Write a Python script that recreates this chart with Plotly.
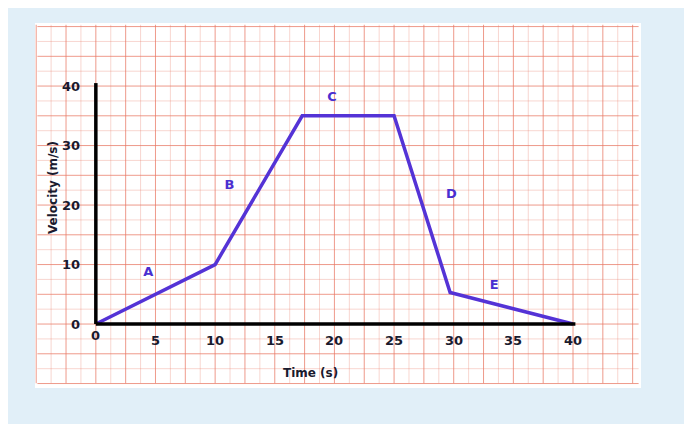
import plotly.graph_objects as go

# Dados
tempo = [0, 10, 17.3, 25, 29.7, 40]
velocidade = [0, 10, 35, 35, 5.3, 0]
trechos = ["A", "B", "C", "D", "E"]
trecho_x = [4.4, 11.2, 19.8, 29.8, 33.4]
trecho_y = [8.7, 23.2, 38.0, 21.8, 6.4]
xticks = [5, 10, 15, 20, 25, 30, 35, 40]
yticks = [10, 20, 30, 40]

W, H = 692, 424
X0, X1 = -5.1, 45.7
Y0, Y1 = -10.75, 50.6
grade = "rgba(232,120,100,0.75)"
grade_fina = "rgba(232,120,100,0.3)"
txt = "#1a1a2e"

fig = go.Figure()
fig.add_trace(go.Scatter(x=tempo, y=velocidade, mode="lines",
                         line=dict(color="#5433d6", width=3.5), hoverinfo="skip"))
fig.add_trace(go.Scatter(x=trecho_x, y=trecho_y, mode="text", text=[f"<b>{t}</b>" for t in trechos],
                         textfont=dict(color="#4a2fd0", size=13, family="DejaVu Sans")))

shapes = [dict(type="rect", xref="paper", yref="paper", x0=27/W, x1=633/W, y0=1-380/H, y1=1-15/H,
               fillcolor="white", line_width=0, layer="below")]
# grade milimetrada
x = 0.0
while x - 1.25 > X0:
    x -= 1.25
while x < X1:
    shapes.append(dict(type="line", x0=x, x1=x, y0=Y0 + 0.8, y1=Y1 - 0.3, layer="below",
                       line=dict(color=grade if round(x / 1.25) % 2 == 0 else grade_fina, width=1)))
    x += 1.25
y = -10.0
while y < Y1:
    shapes.append(dict(type="line", x0=X0 + 0.2, x1=X1 - 0.2, y0=y, y1=y, layer="below",
                       line=dict(color=grade if round(y / 2.5) % 2 == 0 else grade_fina, width=1)))
    y += 2.5
# eixos
shapes.append(dict(type="line", x0=0, x1=40.2, y0=0, y1=0, line=dict(color="black", width=3.5)))
shapes.append(dict(type="line", x0=0, x1=0, y0=0, y1=40.5, line=dict(color="black", width=3.5)))

ann = []
for t in xticks:
    ann.append(dict(x=t, y=-1.2, text=f"<b>{t}</b>", showarrow=False, yanchor="top",
                    font=dict(size=13, color=txt)))
ann.append(dict(x=0, y=-0.4, text="<b>0</b>", showarrow=False, yanchor="top", font=dict(size=13, color=txt)))
for v in [0] + yticks:
    ann.append(dict(x=-1.2, y=v, text=f"<b>{v}</b>", showarrow=False, xanchor="right",
                    font=dict(size=13, color=txt)))
ann.append(dict(x=18.0, y=-8.3, text="<b>Time (s)</b>", showarrow=False, font=dict(size=12, color=txt)))
ann.append(dict(x=-3.6, y=23, text="<b>Velocity (m/s)</b>", showarrow=False, textangle=-90,
                font=dict(size=12, color=txt)))

fig.update_layout(
    width=W, height=H, margin=dict(l=0, r=0, t=0, b=0),
    paper_bgcolor="#e1eff8", plot_bgcolor="rgba(0,0,0,0)", showlegend=False,
    font=dict(family="DejaVu Sans"),
    xaxis=dict(range=[X0, X1], domain=[27/W, 633/W], visible=False),
    yaxis=dict(range=[Y0, Y1], domain=[1-380/H, 1-15/H], visible=False),
    shapes=shapes, annotations=ann,
)
fig.write_html("out.html")
